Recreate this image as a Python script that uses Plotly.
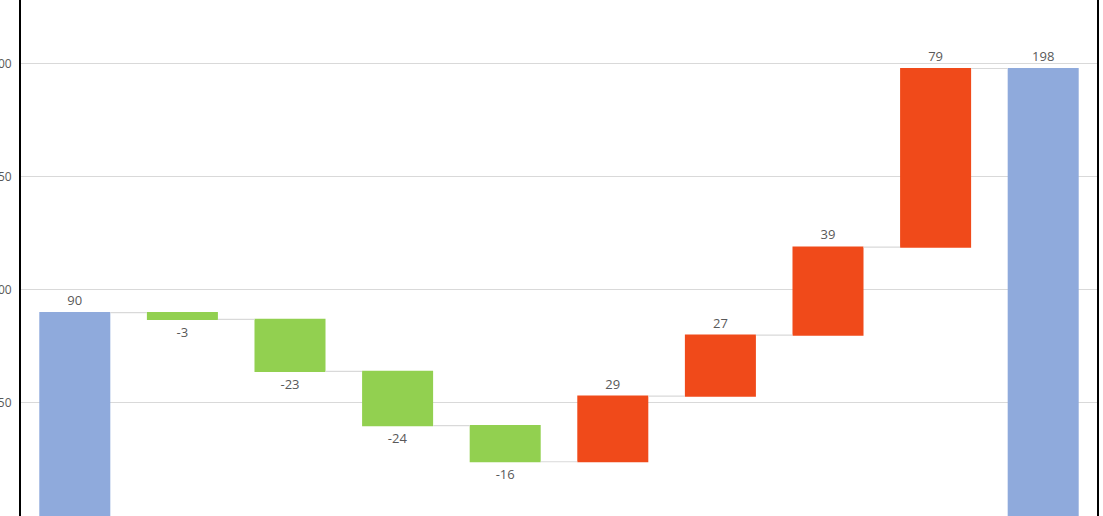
import plotly.graph_objects as go

# ---------------------------------------------------------------------------
# Data
# ---------------------------------------------------------------------------

categories = ["Start", "Step 1", "Step 2", "Step 3", "Step 4",
              "Step 5", "Step 6", "Step 7", "Step 8", "End"]
deltas = [90, -3, -23, -24, -16, 29, 27, 39, 79, 0]
measures = ["absolute", "relative", "relative", "relative", "relative",
            "relative", "relative", "relative", "relative", "total"]
labels = ["90", "-3", "-23", "-24", "-16", "29", "27", "39", "79", "198"]

y_ticks = [0, 50, 100, 150, 200]

# ---------------------------------------------------------------------------
# Styling
# ---------------------------------------------------------------------------

BLUE = "#8faadc"
GREEN = "#92d050"
RED = "#f04a1a"
GRID = "#d9d9d9"
TEXT = "#595959"
FONT = "Open Sans, Liberation Sans, sans-serif"

fig = go.Figure(
    go.Waterfall(
        x=categories,
        y=deltas,
        measure=measures,
        text=labels,
        textposition="outside",
        textfont=dict(size=13, color=TEXT, family=FONT),
        cliponaxis=False,
        increasing=dict(marker=dict(color=RED)),
        decreasing=dict(marker=dict(color=GREEN)),
        totals=dict(marker=dict(color=BLUE)),
        connector=dict(line=dict(color=GRID, width=1.2)),
        hoverinfo="skip",
    )
)

fig.update_layout(
    width=1103,
    height=516,
    margin=dict(l=21, r=6, t=0, b=0),
    paper_bgcolor="white",
    plot_bgcolor="white",
    showlegend=False,
    waterfallgap=0.34,
    font=dict(family=FONT, color=TEXT, size=13),
    xaxis=dict(
        showticklabels=False,
        showgrid=False,
        zeroline=False,
        showline=False,
        automargin=False,
    ),
    yaxis=dict(
        range=[0, 228.3],
        tickvals=y_ticks,
        showgrid=True,
        gridcolor=GRID,
        gridwidth=1,
        zeroline=False,
        showline=True,
        linecolor="black",
        linewidth=2,
        mirror=True,
        ticks="",
        ticklabelstandoff=5,
        tickfont=dict(size=12, color=TEXT, family=FONT),
        automargin=False,
    ),
)

# the page's default body margin would shift the chart; drop it
fig.write_html(
    "out.html",
    config=dict(displayModeBar=False),
    post_script="document.body.style.margin='0';document.body.style.overflow='hidden';",
)
